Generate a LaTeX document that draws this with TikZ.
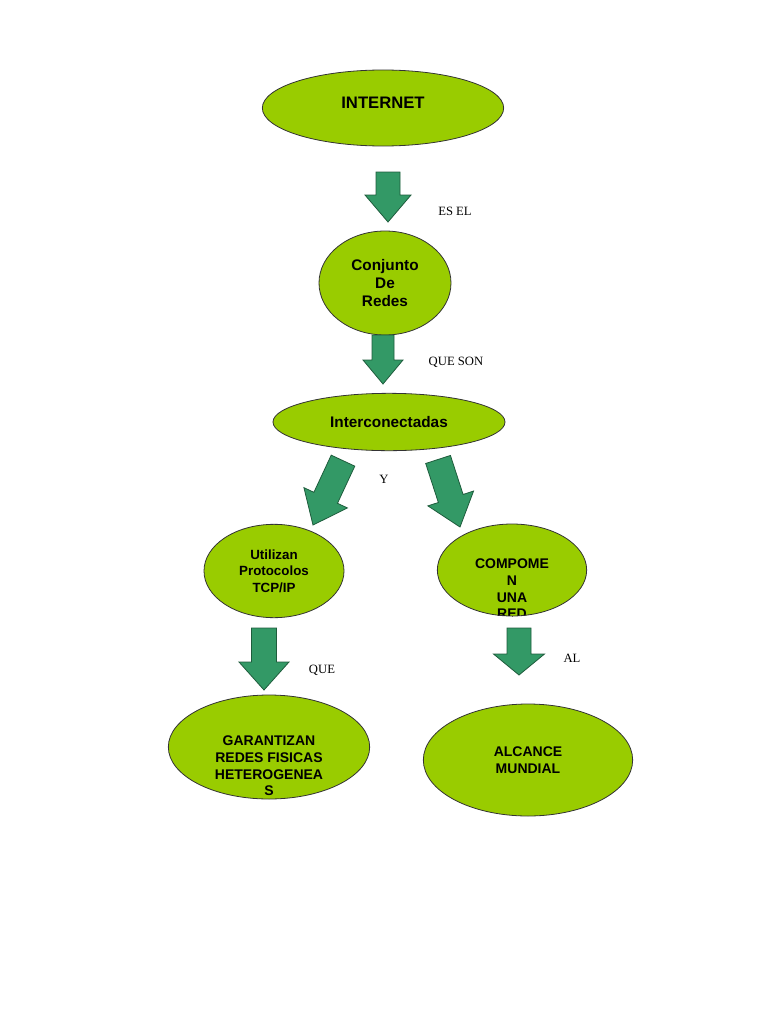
\documentclass[tikz,border=0pt]{standalone}
\usepackage{fontspec}
\setmainfont{Liberation Serif}
\newfontfamily\arial{Liberation Sans}
\usetikzlibrary{shapes.geometric}
\definecolor{lime}{HTML}{99CC00}
\definecolor{ag}{HTML}{339966}
\definecolor{agd}{HTML}{1E5C3C}
\begin{document}
\begin{tikzpicture}[x=0.75pt,y=-0.75pt,
  el/.style={ellipse,draw=black!80,line width=0.6pt,fill=lime,inner sep=0pt,
     font=\arial\bfseries\fontsize{11.5}{13.5}\selectfont,align=center},
  lbl/.style={font=\fontsize{9.5}{11}\selectfont},
  pics/barrow/.style args={#1/#2/#3/#4}{code={
    \fill[ag,draw=agd,line width=0.6pt] (-#2/2,-#1) -- (#2/2,-#1) -- (#2/2,-#4) -- (#3/2,-#4) -- (0,0)
      -- (-#3/2,-#4) -- (-#2/2,-#4) -- cycle;}}]
\useasboundingbox (0,0) rectangle (768,1024);
\node[el,minimum width=181pt,minimum height=57pt,font=\arial\bfseries\fontsize{12.5}{14}\selectfont] (inet) at (383,108) {\raisebox{8pt}{INTERNET}};
\node[el,minimum width=99pt,minimum height=78pt] (conj) at (385,283) {Conjunto\\De\\Redes};
\node[el,minimum width=174pt,minimum height=43pt] (inter) at (389,422) {Interconectadas};
\node[el,minimum width=105pt,minimum height=70pt,font=\arial\bfseries\fontsize{10}{12.5}\selectfont] (util) at (274,571) {Utilizan\\Protocolos\\TCP/IP};
\node[el,minimum width=112pt,minimum height=69pt,
  path picture={\node[font=\arial\bfseries\fontsize{10.5}{12.5}\selectfont,align=center,anchor=north] at ([yshift=-14pt]path picture bounding box.north) {COMPOME\\N\\UNA\\RED};}] (comp) at (512,570) {};
\node[el,minimum width=151pt,minimum height=78pt,
  path picture={\node[font=\arial\bfseries\fontsize{10.5}{12.5}\selectfont,align=center,anchor=north] at ([yshift=-14pt]path picture bounding box.north) {GARANTIZAN\\REDES FISICAS\\HETEROGENEA\\S};}] (gar) at (269,747) {};
\node[el,minimum width=157pt,minimum height=84pt,font=\arial\bfseries\fontsize{10.5}{12.5}\selectfont] (alc) at (528,760) {ALCANCE\\MUNDIAL};
\pic at (388,222) {barrow={50/24/46/27}};
\pic at (383,384) {barrow={49/22/40/24}};
\pic[rotate=-25] at (313,525) {barrow={71/26/48/30}};
\pic[rotate=18] at (460,527) {barrow={71/26/48/30}};
\pic at (264,690) {barrow={62/25/50/28}};
\pic at (519,675) {barrow={47/24/51/21}};
\node[lbl] (l1) at (455,211) {ES EL};
\node[lbl] (l2) at (456,362) {QUE SON};
\node[lbl] (l3) at (384,479) {Y};
\node[lbl] (l4) at (322,670) {QUE};
\node[lbl] (l5) at (572,658) {AL};
\end{tikzpicture}
\end{document}
